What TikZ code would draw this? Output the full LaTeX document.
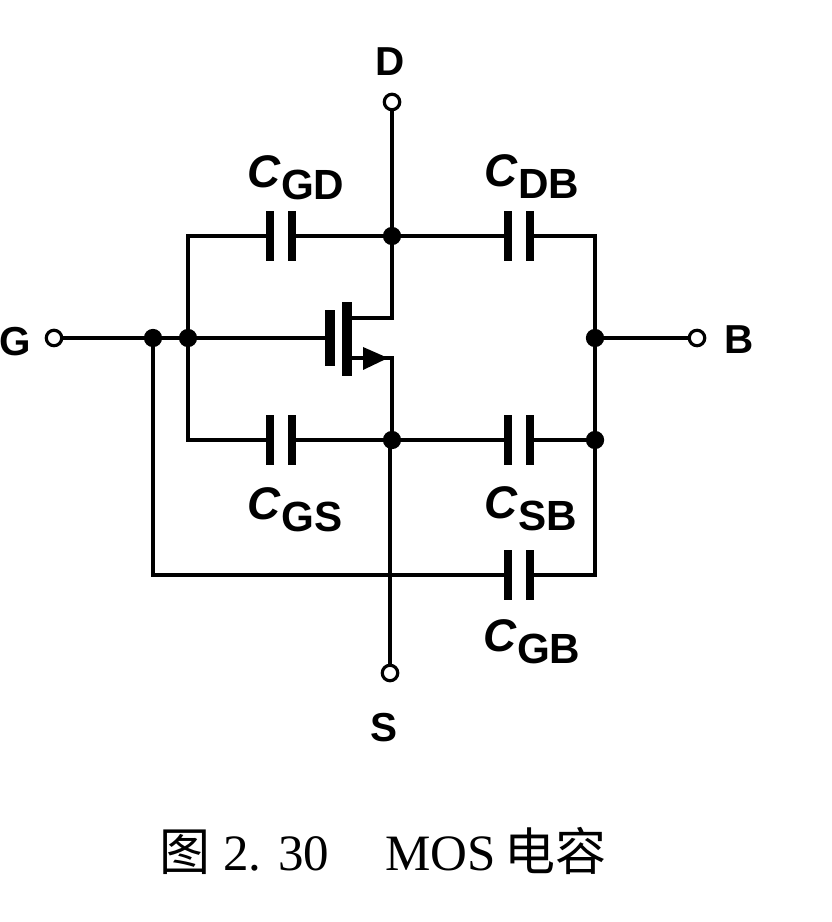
\documentclass[tikz,border=0pt]{standalone}
\usepackage{fontspec}
\setmainfont{Liberation Serif}
\setsansfont{Liberation Sans}
\newfontfamily\cjk{Noto Sans CJK SC}
\usepackage{tikz}
\tikzset{
	wire/.style={black, line width=1.15pt},
	junction/.style={circle, fill=black, inner sep=0, outer sep=0, minimum size=5.2pt},
	terminal/.style={circle, draw=black, fill=white, line width=0.9pt, inner sep=0, minimum size=4.4pt},
	plate/.style={rectangle, fill=black, inner sep=0, outer sep=0, minimum width=2.1pt, minimum height=14pt},
	pinlabel/.style={font=\sffamily\bfseries\fontsize{11.5}{13}\selectfont},
	caplabel/.style={font=\sffamily\bfseries\fontsize{13}{15}\selectfont}
}
\newcommand\caplbl[1]{\textit{C}\raisebox{-0.5ex}{\fontsize{12}{14}\selectfont #1}}
\begin{document}
\begin{tikzpicture}[x=0.01cm, y=-0.01cm]
	\useasboundingbox (0,0) rectangle (831,922);
	% terminals
	\node[terminal] (d) at (392,102) {};
	\node[terminal] (s) at (390,673) {};
	\node[terminal] (g) at (54,338) {};
	\node[terminal] (b) at (697,338) {};
	% junctions
	\node[junction] (ntop) at (392,236) {};
	\node[junction] (nmid) at (392,440) {};
	\node[junction] (ngo) at (153,338) {};
	\node[junction] (ngi) at (188,338) {};
	\node[junction] (nbt) at (595,338) {};
	\node[junction] (nbm) at (595,440) {};
	% corners
	\coordinate (lt) at (188,236);
	\coordinate (lm) at (188,440);
	\coordinate (rt) at (595,236);
	\coordinate (lb) at (153,575);
	\coordinate (rb) at (595,575);
	% capacitors
	\node[plate] (gdl) at (270,236) {};
	\node[plate] (gdr) at (292,236) {};
	\node[plate] (dbl) at (508,236) {};
	\node[plate] (dbr) at (530,236) {};
	\node[plate] (gsl) at (270,440) {};
	\node[plate] (gsr) at (292,440) {};
	\node[plate] (sbl) at (508,440) {};
	\node[plate] (sbr) at (530,440) {};
	\node[plate] (gbl) at (508,575) {};
	\node[plate] (gbr) at (530,575) {};
	% transistor
	\node[rectangle, fill=black, inner sep=0, outer sep=0, minimum width=2.8pt, minimum height=16pt] (gate) at (330,338) {};
	\node[rectangle, fill=black, inner sep=0, outer sep=0, minimum width=2.8pt, minimum height=21pt] (chan) at (347,339) {};
	\coordinate (dc) at (392,318);
	\coordinate (sc) at (392,358);
	% wires
	\draw[wire] (g) -- (ngo) -- (ngi) -- (gate);
	\draw[wire] (ngi) -- (lt) -- (gdl);
	\draw[wire] (gdr) -- (ntop) -- (dbl);
	\draw[wire] (dbr) -- (rt) -- (nbt) -- (nbm) -- (rb) -- (gbr);
	\draw[wire] (ngi) -- (lm) -- (gsl);
	\draw[wire] (gsr) -- (nmid) -- (sbl);
	\draw[wire] (sbr) -- (nbm);
	\draw[wire] (ngo) -- (lb) -- (gbl);
	\draw[wire] (nbt) -- (b);
	\draw[wire] (d) -- (ntop) -- (dc) -- (chan.east |- dc);
	\draw[wire] (chan.east |- sc) -- (sc) -- (nmid);
	\draw[wire] (s |- nmid) -- (s);
	\fill[black] (363,347) -- (388,358) -- (363,370) -- cycle;
	% labels
	\node[pinlabel] (ld) at (390,62) {D};
	\node[pinlabel] (ls) at (384,728) {S};
	\node[pinlabel] (lg) at (15,342) {G};
	\node[pinlabel] (lb2) at (739,340) {B};
	\node[caplabel] (lgd) at (296,178) {\caplbl{GD}};
	\node[caplabel] (ldb) at (532,177) {\caplbl{DB}};
	\node[caplabel] (lgs) at (295,510) {\caplbl{GS}};
	\node[caplabel] (lsb) at (531,509) {\caplbl{SB}};
	\node[caplabel] (lgb) at (532,642) {\caplbl{GB}};
	\node[font=\fontsize{14.5}{16}\selectfont, inner sep=0] (title) at (383,851) {{\cjk 图} 2.\,\,30\hspace{1.1em}MOS\,{\cjk 电容}};
\end{tikzpicture}
\end{document}
